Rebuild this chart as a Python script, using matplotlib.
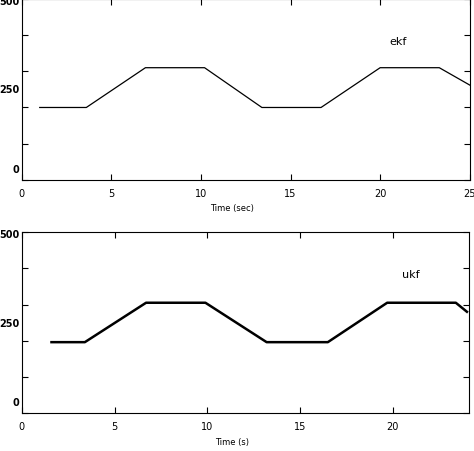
import matplotlib.pyplot as plt

# Trayectorias estimadas (tiempo, valor)
t_ekf = [1.0, 3.6, 6.9, 10.2, 13.4, 16.7, 20.0, 23.3, 25.0]
y_ekf = [200, 200, 310, 310, 200, 200, 310, 310, 262]
t_ukf = [1.6, 3.4, 6.7, 9.9, 13.2, 16.5, 19.7, 23.4, 24.0]
y_ukf = [196, 196, 305, 305, 196, 196, 305, 305, 280]

fig = plt.figure(figsize=(4.74, 4.52), dpi=100)
ax1 = fig.add_axes([0.046, 0.60, 0.945, 0.40])
ax2 = fig.add_axes([0.046, 0.084, 0.943, 0.40])

configs = [
    (ax1, t_ekf, y_ekf, "ekf", "Time (sec)", 25, 0.9, [0, 5, 10, 15, 20, 25]),
    (ax2, t_ukf, y_ukf, "ukf", "Time (s)", 24.1, 1.8, [0, 5, 10, 15, 20]),
]
for ax, t, y, name, xl, xmax, lw, xt in configs:
    ax.plot(t, y, color="black", lw=lw)
    ax.set_xlim(0, xmax)
    ax.set_ylim(0, 500)
    ax.set_xticks(xt)
    ax.set_yticks([0, 100, 200, 300, 400, 500])
    ax.set_yticklabels([])
    ax.tick_params(direction="in", length=4, labelsize=7, pad=6)
    ax.tick_params(axis="x", top=True)
    ax.tick_params(axis="y", right=True)
    ax.set_xlabel(xl, fontsize=6, labelpad=4)
    ax.xaxis.set_label_coords(0.47, -0.13)
    ax.text(20.5, 375, name, fontsize=8)
    for v, dy in [(0, 30), (250, 0), (500, -5)]:
        ax.text(-0.005, v + dy, str(v), fontsize=7, fontweight="bold",
                ha="right", va="center", transform=ax.get_yaxis_transform())

plt.savefig("out.png")
